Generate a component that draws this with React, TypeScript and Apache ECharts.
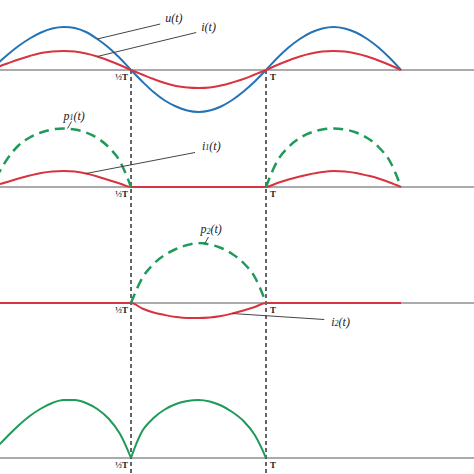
import React, { useEffect, useRef } from 'react';
import * as echarts from 'echarts';

// phase in degrees, ½T = 180, T = 360
const phases = [
	0, 15, 30, 45, 60, 75, 90, 105, 120, 135, 150, 165, 180,
	195, 210, 225, 240, 255, 270, 285, 300, 315, 330, 345, 360,
	375, 390, 405, 420, 435, 450, 465, 480, 495, 510, 525, 540
];
const halfA = phases.slice(0, 13); // 0 .. ½T
const halfB = phases.slice(12, 25); // ½T .. T
const halfC = phases.slice(24, 37); // T .. 3/2T

// panel 1
const uValues = [
	0.1, 0.3, 0.48, 0.63, 0.75, 0.83, 0.86, 0.84, 0.76, 0.62, 0.45, 0.24, 0,
	-0.23, -0.44, -0.61, -0.73, -0.81, -0.84, -0.81, -0.73, -0.6, -0.43, -0.23, 0,
	0.24, 0.45, 0.62, 0.75, 0.83, 0.86, 0.83, 0.75, 0.62, 0.45, 0.24, 0
];
const iValues = [
	0.05, 0.13, 0.21, 0.28, 0.34, 0.37, 0.38, 0.37, 0.33, 0.27, 0.19, 0.1, 0,
	-0.09, -0.18, -0.26, -0.32, -0.35, -0.36, -0.35, -0.31, -0.25, -0.18, -0.09, 0,
	0.1, 0.19, 0.27, 0.33, 0.37, 0.38, 0.37, 0.33, 0.27, 0.19, 0.1, 0
];

// panel 2
const p1Arc1 = [0.18, 0.56, 0.83, 0.99, 1.09, 1.15, 1.17, 1.15, 1.09, 0.98, 0.8, 0.52, 0];
const p1Arc2 = [0, 0.52, 0.8, 0.98, 1.09, 1.15, 1.17, 1.15, 1.09, 0.98, 0.8, 0.52, 0];
const i1Values = [
	0.04, 0.1, 0.17, 0.23, 0.28, 0.31, 0.32, 0.31, 0.27, 0.21, 0.14, 0.07, 0,
	0, 0, 0, 0, 0, 0, 0, 0, 0, 0, 0, 0,
	0.08, 0.15, 0.21, 0.26, 0.3, 0.32, 0.31, 0.28, 0.23, 0.17, 0.09, 0
];

// panel 3
const p2Arc = [0, 0.5, 0.78, 0.96, 1.08, 1.16, 1.2, 1.17, 1.1, 0.98, 0.8, 0.52, 0];
const i2Values = [
	0, 0, 0, 0, 0, 0, 0, 0, 0, 0, 0, 0, 0,
	-0.11, -0.19, -0.24, -0.28, -0.3, -0.3, -0.29, -0.26, -0.21, -0.15, -0.08, 0,
	0, 0, 0, 0, 0, 0, 0, 0, 0, 0, 0, 0
];

// panel 4
const pArc1 = [0.2, 0.43, 0.65, 0.84, 0.99, 1.1, 1.16, 1.16, 1.1, 0.98, 0.79, 0.49, 0];
const pArc2 = [0, 0.54, 0.8, 0.97, 1.08, 1.14, 1.16, 1.13, 1.05, 0.92, 0.74, 0.46, 0];

const tickMarks = [
	{ phase: 180, text: '½T' },
	{ phase: 360, text: 'T' }
];

const BLUE = '#2573b4';
const RED = '#d8343f';
const GREEN = '#1f9a5a';

const pair = (xs: number[], ys: number[]) => xs.map((x, i) => [x, ys[i]]);

const App: React.FC = () => {
	const chartRef = useRef<HTMLDivElement>(null);

	useEffect(() => {
		if (!chartRef.current) return;
		const chart = echarts.init(chartRef.current, undefined, { renderer: 'svg' });

		const grids = [
			{ top: 10, height: 120, min: -1.2, max: 1.2 },
			{ top: 127, height: 120, min: -1.2, max: 1.2 },
			{ top: 243, height: 120, min: -1.2, max: 1.2 },
			{ top: 398, height: 75, min: -0.3, max: 1.2 }
		];

		const line = (g: number, data: number[][], color: string, dashed = false) => ({
			type: 'line',
			xAxisIndex: g,
			yAxisIndex: g,
			data,
			symbol: 'none',
			smooth: 0.35,
			silent: true,
			lineStyle: { color, width: dashed ? 2.5 : 2, type: dashed ? [10, 6] : 'solid' }
		});

		chart.setOption({
			animation: false,
			backgroundColor: '#fff',
			grid: grids.map(g => ({ left: 0, right: 0, top: g.top, height: g.height })),
			xAxis: grids.map((_, i) => ({
				gridIndex: i,
				type: 'value',
				min: 5.33,
				max: 637.3,
				axisLine: { show: true, onZero: true, lineStyle: { color: '#8f8f8f', width: 1.5 } },
				axisTick: { show: false },
				axisLabel: { show: false },
				splitLine: { show: false }
			})),
			yAxis: grids.map((g, i) => ({
				gridIndex: i,
				type: 'value',
				min: g.min,
				max: g.max,
				show: false
			})),
			series: [
				line(0, pair(phases, uValues), BLUE),
				line(0, pair(phases, iValues), RED),
				line(1, pair(phases, i1Values), RED),
				line(1, pair(halfA, p1Arc1), GREEN, true),
				line(1, pair(halfC, p1Arc2), GREEN, true),
				line(2, pair(phases, i2Values), RED),
				line(2, pair(halfB, p2Arc), GREEN, true),
				line(3, pair(halfA, pArc1), GREEN),
				line(3, pair(halfB, pArc2), GREEN)
			]
		});

		const px = (g: number, x: number, y: number) =>
			chart.convertToPixel({ gridIndex: g }, [x, y]) as number[];
		const H = chart.getHeight();
		const serif = '"Liberation Serif", "DejaVu Serif", serif';
		const graphic: any[] = [];

		// dashed verticals at ½T and T
		tickMarks.forEach(t => {
			const [x, y] = px(0, t.phase, 0);
			graphic.push({
				type: 'line',
				shape: { x1: x, y1: y, x2: x, y2: H },
				style: { stroke: '#333', lineWidth: 1.5, lineDash: [4, 3] },
				z: 1
			});
		});

		// ½T / T labels under every baseline
		grids.forEach((_, g) => {
			tickMarks.forEach(t => {
				const [x, y] = px(g, t.phase, 0);
				const right = t.phase === 180;
				graphic.push({
					type: 'text',
					x: right ? x - 3 : x + 4,
					y: y + 2,
					style: {
						text: t.text,
						font: `bold 9px ${serif}`,
						fill: '#222',
						align: right ? 'right' : 'left',
						textAlign: right ? 'right' : 'left',
						verticalAlign: 'top',
						textVerticalAlign: 'top'
					},
					z: 5
				});
			});
		});

		// leaders and curve names; {s|..} is the subscript
		const leaders = [
			{ g: 0, at: [135, uValues[9]], start: [0, 0], end: [63, -15], text: '{n|u(t)}', pos: [68, -22] },
			{ g: 0, at: [135, iValues[9]], start: [0, 0], end: [99, -24], text: '{n|i(t)}', pos: [104, -31] },
			{ g: 1, at: [90, p1Arc1[6]], start: [4, 0], end: [8, -7], text: '{n|p}{s|1}{n|(t)}', pos: [0, -14] },
			{ g: 1, at: [120, i1Values[8]], start: [0, 0], end: [109, -21], text: '{n|i}{s|1}{n|(t)}', pos: [116, -29] },
			{ g: 2, at: [270, p2Arc[6]], start: [6, 1], end: [10, -6], text: '{n|p}{s|2}{n|(t)}', pos: [2, -15] },
			{ g: 2, at: [315, i2Values[21]], start: [0, 0], end: [92, 6], text: '{n|i}{s|2}{n|(t)}', pos: [99, 7] }
		];
		leaders.forEach(l => {
			const [ax, ay] = px(l.g, l.at[0], l.at[1]);
			graphic.push({
				type: 'line',
				shape: { x1: ax + l.start[0], y1: ay + l.start[1], x2: ax + l.end[0], y2: ay + l.end[1] },
				style: { stroke: '#444', lineWidth: 1 },
				z: 4
			});
			graphic.push({
				type: 'text',
				x: ax + l.pos[0],
				y: ay + l.pos[1],
				style: {
					text: l.text,
					fill: '#222',
					align: 'left',
					textAlign: 'left',
					verticalAlign: 'middle',
					textVerticalAlign: 'middle',
					rich: {
						n: { fontFamily: serif, fontStyle: 'italic', fontSize: 12, fill: '#222', color: '#222', lineHeight: 14, verticalAlign: 'bottom' },
						s: { fontFamily: serif, fontStyle: 'italic', fontSize: 8, fill: '#222', color: '#222', lineHeight: 14, verticalAlign: 'bottom', padding: [4, 0, 0, 0] }
					}
				},
				z: 5
			});
		});

		chart.setOption({ graphic });

		return () => {
			chart.dispose();
		};
	}, []);

	return (
		<div
			ref={chartRef}
			style={{ position: 'fixed', left: 0, top: 0, width: 474, height: 474, background: '#fff' }}
		/>
	);
};

export default App;
